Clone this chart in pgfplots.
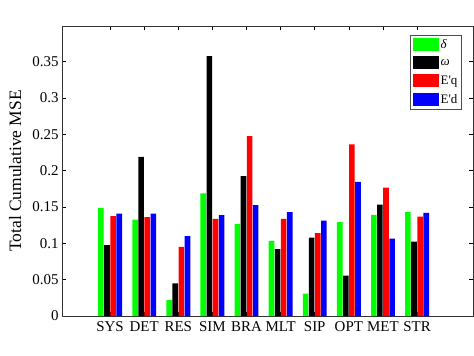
\documentclass[border=0pt]{standalone}
\usepackage{pgfplots}
\pgfplotsset{compat=1.18}
\usepackage{fontspec}
\setmainfont{Liberation Serif}
\begin{document}
\begin{tikzpicture}[x=1bp,y=1bp]
\path[use as bounding box] (0,0) rectangle (474,355);
\begin{axis}[
  at={(62bp,39bp)}, anchor=south west,
  width=411bp, height=290bp, scale only axis,
  xmin=-0.41, xmax=11.64, ymin=0, ymax=0.399,
  ybar=0.5bp, bar width=5.6bp,
  xtick={1,...,10},
  xticklabels={SYS,DET,RES,SIM,BRA,MLT,SIP,OPT,MET,STR},
  ytick={0,0.05,0.1,0.15,0.2,0.25,0.3,0.35},
  yticklabels={0,0.05,0.1,0.15,0.2,0.25,0.3,0.35},
  tick align=inside, major tick length=4bp,
  tick style={black, line width=0.5pt},
  axis line style={black!80, line width=0.7pt},
  ticklabel style={font=\fontsize{15}{17}\selectfont},
  xticklabel style={yshift=-2bp},
  ylabel={Total Cumulative MSE},
  ylabel style={font=\fontsize{17.5}{19}\selectfont, at={(axis description cs:-0.114,0.5)}, anchor=center},
  legend style={at={(0.972,0.97)}, anchor=north east, draw=black!70, font=\fontsize{13}{15}\selectfont, inner xsep=2bp, inner ysep=2.5bp, row sep=4.5bp, legend cell align=left},
  legend image code/.code={\fill[#1] (0bp,-6.5bp) rectangle (26bp,6.5bp);},
]
\addplot[fill={rgb,1:red,0;green,1;blue,0}, draw=none] coordinates {(1,0.1488) (2,0.1327) (3,0.022) (4,0.1686) (5,0.1268) (6,0.1033) (7,0.0308) (8,0.129) (9,0.139) (10,0.1428)};
\addplot[fill=black, draw=none] coordinates {(1,0.0974) (2,0.219) (3,0.045) (4,0.3577) (5,0.1924) (6,0.0919) (7,0.108) (8,0.0556) (9,0.1534) (10,0.1024)};
\addplot[fill=red, draw=none] coordinates {(1,0.1373) (2,0.136) (3,0.095) (4,0.1337) (5,0.2475) (6,0.1337) (7,0.1139) (8,0.236) (9,0.1768) (10,0.1369)};
\addplot[fill=blue, draw=none] coordinates {(1,0.141) (2,0.141) (3,0.110) (4,0.1387) (5,0.1525) (6,0.1428) (7,0.1314) (8,0.1846) (9,0.1066) (10,0.1419)};
\legend{{\itshape δ},{\itshape ω},E\textquotesingle q,E\textquotesingle d}
\end{axis}
\end{tikzpicture}
\end{document}
